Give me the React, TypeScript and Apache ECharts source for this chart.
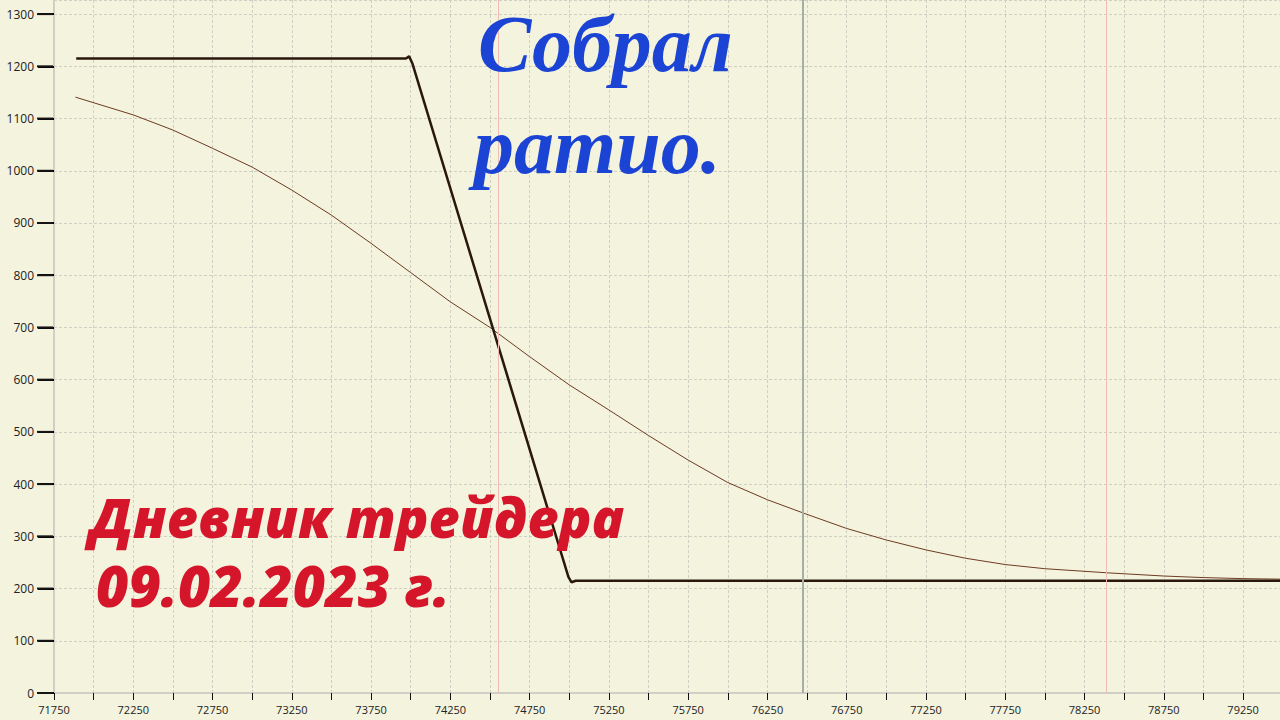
import React, { useEffect, useRef } from "react";
import * as echarts from "echarts";

// X axis (underlying price) and Y axis (value) ranges
const xMin = 71750;
const xMax = 79483;
const xStep = 250;
const xLabelStep = 500;
const yMin = 0;
const yMax = 1327;
const yStep = 100;
const yTickValues = [0, 100, 200, 300, 400, 500, 600, 700, 800, 900, 1000, 1100, 1200, 1300];

// Expiration payoff (thick line)
const payoffX = [71890, 73970, 73990, 74010, 74995, 75015, 75040, 79483];
const payoffY = [1215, 1215, 1219, 1206, 222, 212, 215, 215];

// Current theoretical value (thin curve)
const curveX = [
  71885, 72250, 72500, 72750, 73000, 73250, 73500, 73750, 74000, 74250, 74500,
  74750, 75000, 75250, 75500, 75750, 76000, 76250, 76500, 76750, 77000, 77250,
  77500, 77750, 78000, 78400, 78750, 79000, 79250, 79483,
];
const curveY = [
  1141, 1107, 1078, 1043, 1007, 963, 915, 861, 805, 749, 700,
  644, 590, 542, 493, 446, 403, 370, 342, 315, 293, 274,
  258, 246, 238, 230, 224, 221, 219, 218,
];

// Vertical marker lines
const spotPrice = 76470;
const rangeLines = [74550, 78390];

// Overlay texts
const titleLines = ["Собрал", "ратио."];
const diaryLines = ["Дневник трейдера", "09.02.2023 г."];

export default function App() {
  const ref = useRef<HTMLDivElement>(null);

  useEffect(() => {
    if (!ref.current) return;
    const chart = echarts.init(ref.current, null, { renderer: "svg" });

    const payoff = payoffX.map((x, i) => [x, payoffY[i]]);
    const curve = curveX.map((x, i) => [x, curveY[i]]);

    const blueFont = "italic bold 80px 'Liberation Serif'";
    const redFont = "italic 800 54px 'Open Sans'";

    const textGraphics: any[] = [
      {
        type: "text",
        left: 478,
        top: 4,
        z: 10,
        style: { text: titleLines[0], fill: "#1c44d4", font: blueFont, lineHeight: 64 },
      },
      {
        type: "text",
        left: 474,
        top: 106,
        z: 10,
        style: { text: titleLines[1], fill: "#1c44d4", font: blueFont, lineHeight: 64 },
      },
      {
        type: "text",
        left: 90,
        top: 488,
        z: 10,
        style: { text: diaryLines[0], fill: "#d4152a", font: redFont, lineHeight: 58 },
      },
      {
        type: "text",
        left: 96,
        top: 556,
        z: 10,
        style: {
          text: diaryLines[1],
          fill: "#d4152a",
          font: "italic 800 56px 'Open Sans'",
          lineHeight: 58,
        },
      },
    ];

    chart.setOption({
      animation: false,
      backgroundColor: "#f4f3de",
      grid: { left: 54, right: 0, top: 0, bottom: 27, containLabel: false },
      xAxis: {
        type: "value",
        position: "bottom",
        min: xMin,
        max: xMax,
        interval: xStep,
        axisLine: { show: true, onZero: false, lineStyle: { color: "#cfcfc6", width: 2 } },
        axisTick: { show: true, length: 7, lineStyle: { color: "#111", width: 1 } },
        axisLabel: {
          showMaxLabel: false,
          margin: 11,
          fontSize: 11,
          fontFamily: "Open Sans",
          color: "#222",
          formatter: (v: number) => ((v - xMin) % xLabelStep === 0 ? String(v) : ""),
        },
        splitLine: { show: true, lineStyle: { color: "#cfcfc4", type: [3, 2], width: 1 } },
      },
      yAxis: {
        type: "value",
        position: "left",
        min: yMin,
        max: yMax,
        interval: yStep,
        axisLine: { show: true, onZero: false, lineStyle: { color: "#cfcfc6", width: 2 } },
        axisTick: {
          show: true,
          inside: false,
          length: 16,
          lineStyle: { color: "#000", width: 2, opacity: 1 },
        },
        axisLabel: {
          showMaxLabel: false,
          margin: 20,
          fontSize: 12,
          fontFamily: "Open Sans",
          color: "#222",
          formatter: (v: number) => String(v),
        },
        splitLine: { show: true, lineStyle: { color: "#cfcfc4", type: [3, 2], width: 1 } },
      },
      series: [
        {
          type: "line",
          data: curve,
          showSymbol: false,
          smooth: false,
          lineStyle: { color: "#6e3a22", width: 1 },
          z: 3,
          markLine: {
            silent: true,
            symbol: "none",
            label: { show: false },
            data: [
              ...rangeLines.map((v) => ({
                xAxis: v,
                lineStyle: { color: "#f0bdb4", width: 1, type: "solid" },
              })),
              { xAxis: spotPrice, lineStyle: { color: "#a7aea5", width: 2, type: "solid" } },
            ],
          },
        },
        {
          type: "line",
          data: payoff,
          showSymbol: false,
          lineStyle: { color: "#2a180c", width: 2.5 },
          z: 4,
        },
      ],
      graphic: textGraphics,
    });

    // Y-axis tick marks placed through the chart's own scales
    const tickGraphics: any[] = [];
    yTickValues.forEach((v) => {
      const p = chart.convertToPixel({ gridIndex: 0 }, [xMin, v]) as number[];
      if (!p || !isFinite(p[0]) || !isFinite(p[1])) return;
      tickGraphics.push({
        type: "rect",
        z: 20,
        silent: true,
        shape: { x: p[0] - 17, y: p[1] - 1, width: 16, height: 2 },
        style: { fill: "#151515" },
      });
    });
    chart.setOption({ graphic: [...textGraphics, ...tickGraphics] });

    return () => chart.dispose();
  }, []);

  return (
    <div
      ref={ref}
      style={{ position: "fixed", left: 0, top: 0, width: 1280, height: 720 }}
    />
  );
}
